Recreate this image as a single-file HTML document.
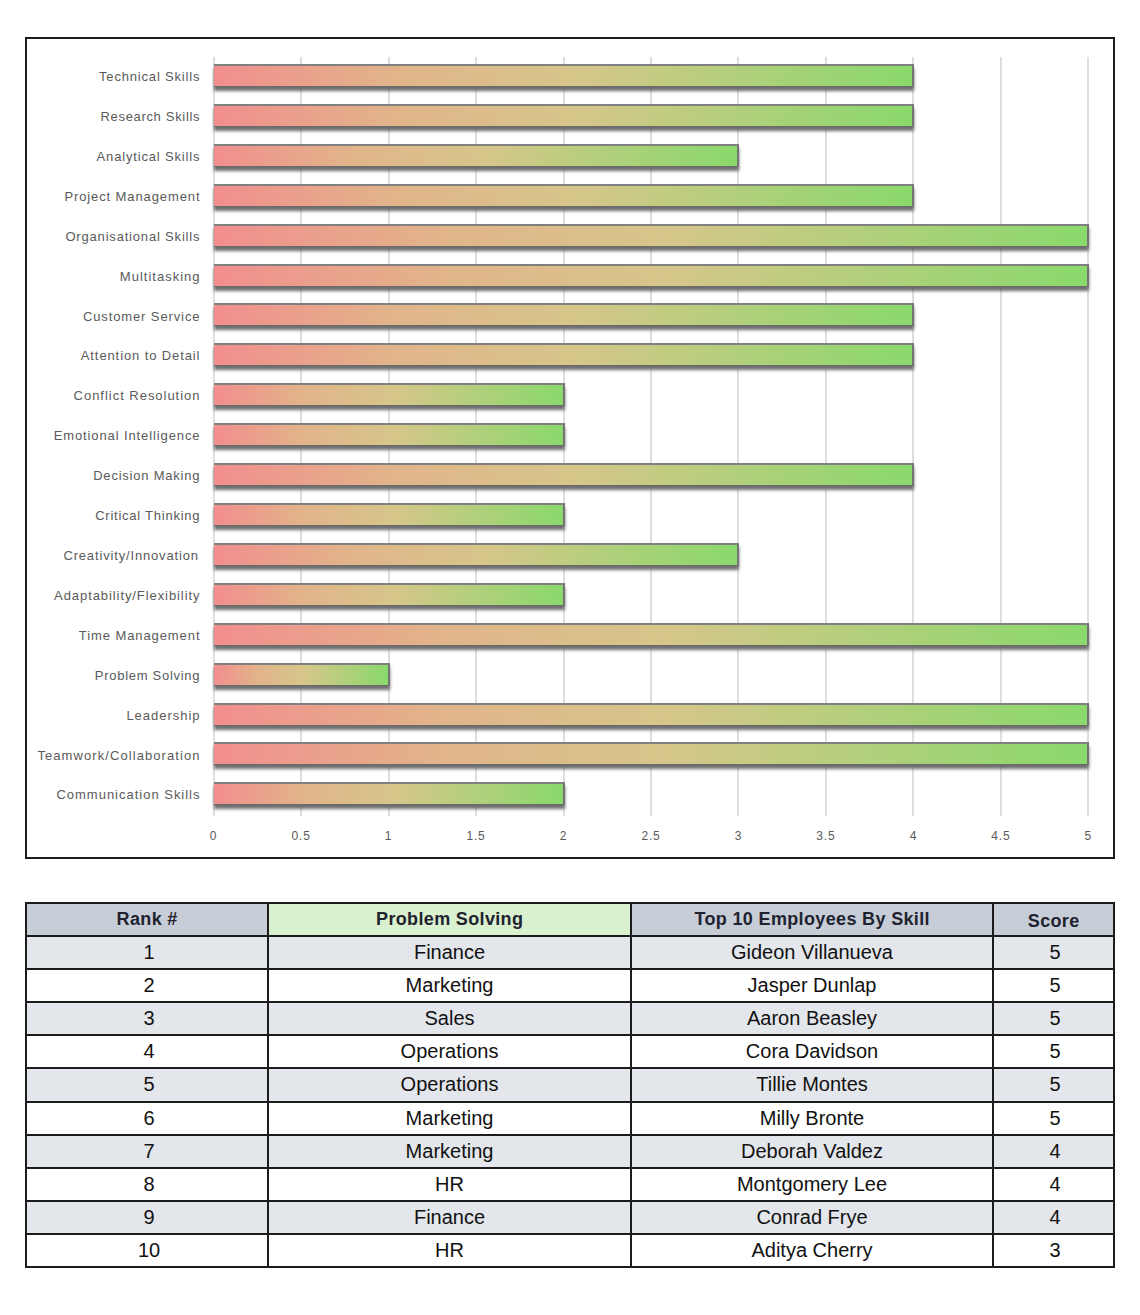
<!DOCTYPE html>
<html><head><meta charset="utf-8"><style>
html,body{margin:0;padding:0;background:#fff;}
body{width:1140px;height:1315px;position:relative;overflow:hidden;font-family:"Liberation Sans",sans-serif;}
.box{position:absolute;left:25px;top:37px;width:1086px;height:818px;border:2px solid #1c1c1c;}
.gl{position:absolute;top:57px;height:759px;width:2px;background:#dedede;}
.bar{position:absolute;left:214px;height:20px;border-top:2px solid #808080;border-right:2px solid #747474;border-bottom:1px solid #6a6a6a;box-sizing:content-box;box-shadow:0px 4px 3px rgba(95,95,95,0.9);background:linear-gradient(to right,#f28e8e,#e2b38a 25%,#d6c68a 52%,#8ad96c);}
.lbl{position:absolute;right:941px;font-size:13px;color:#595959;white-space:nowrap;letter-spacing:0.5px;line-height:16px;}
.xl{position:absolute;top:826px;font-size:11px;color:#595959;width:40px;text-align:center;line-height:16px;}
.hl{position:absolute;left:25px;width:1090px;height:2px;background:#1c1c1c;}
.vl{position:absolute;top:902px;height:366px;width:2px;background:#1c1c1c;}
.cell{position:absolute;text-align:center;white-space:nowrap;}
.hd{font-weight:bold;font-size:18px;color:#1f2330;letter-spacing:0.35px;text-indent:0.35px;}
.bd{font-size:20px;color:#111;}
</style></head><body>
<div class="box"></div>
<div class="gl" style="left:212.60px"></div>
<div class="gl" style="left:300.07px"></div>
<div class="gl" style="left:387.55px"></div>
<div class="gl" style="left:475.02px"></div>
<div class="gl" style="left:562.50px"></div>
<div class="gl" style="left:649.98px"></div>
<div class="gl" style="left:737.45px"></div>
<div class="gl" style="left:824.92px"></div>
<div class="gl" style="left:912.40px"></div>
<div class="gl" style="left:999.88px"></div>
<div class="gl" style="left:1087.35px"></div>
<div class="bar" style="top:64.00px;width:698.40px"></div>
<div class="bar" style="top:103.91px;width:698.40px"></div>
<div class="bar" style="top:143.82px;width:523.45px"></div>
<div class="bar" style="top:183.73px;width:698.40px"></div>
<div class="bar" style="top:223.64px;width:873.35px"></div>
<div class="bar" style="top:263.55px;width:873.35px"></div>
<div class="bar" style="top:303.46px;width:698.40px"></div>
<div class="bar" style="top:343.37px;width:698.40px"></div>
<div class="bar" style="top:383.28px;width:348.50px"></div>
<div class="bar" style="top:423.19px;width:348.50px"></div>
<div class="bar" style="top:463.10px;width:698.40px"></div>
<div class="bar" style="top:503.01px;width:348.50px"></div>
<div class="bar" style="top:542.92px;width:523.45px"></div>
<div class="bar" style="top:582.83px;width:348.50px"></div>
<div class="bar" style="top:622.74px;width:873.35px"></div>
<div class="bar" style="top:662.65px;width:173.55px"></div>
<div class="bar" style="top:702.56px;width:873.35px"></div>
<div class="bar" style="top:742.47px;width:873.35px"></div>
<div class="bar" style="top:782.38px;width:348.50px"></div>
<svg style="position:absolute;left:0;top:0" width="1140" height="900"><text x="99.0" y="81.0" textLength="100.5" lengthAdjust="spacing" font-family="Liberation Sans" font-size="13" fill="#5a5a5a">Technical Skills</text>
<text x="100.5" y="120.9" textLength="99.0" lengthAdjust="spacing" font-family="Liberation Sans" font-size="13" fill="#5a5a5a">Research Skills</text>
<text x="96.6" y="160.8" textLength="102.9" lengthAdjust="spacing" font-family="Liberation Sans" font-size="13" fill="#5a5a5a">Analytical Skills</text>
<text x="64.4" y="200.7" textLength="135.1" lengthAdjust="spacing" font-family="Liberation Sans" font-size="13" fill="#5a5a5a">Project Management</text>
<text x="65.4" y="240.6" textLength="134.1" lengthAdjust="spacing" font-family="Liberation Sans" font-size="13" fill="#5a5a5a">Organisational Skills</text>
<text x="119.8" y="280.5" textLength="79.7" lengthAdjust="spacing" font-family="Liberation Sans" font-size="13" fill="#5a5a5a">Multitasking</text>
<text x="82.9" y="320.5" textLength="116.6" lengthAdjust="spacing" font-family="Liberation Sans" font-size="13" fill="#5a5a5a">Customer Service</text>
<text x="80.8" y="360.4" textLength="118.7" lengthAdjust="spacing" font-family="Liberation Sans" font-size="13" fill="#5a5a5a">Attention to Detail</text>
<text x="73.6" y="400.3" textLength="125.9" lengthAdjust="spacing" font-family="Liberation Sans" font-size="13" fill="#5a5a5a">Conflict Resolution</text>
<text x="53.7" y="440.2" textLength="145.8" lengthAdjust="spacing" font-family="Liberation Sans" font-size="13" fill="#5a5a5a">Emotional Intelligence</text>
<text x="93.2" y="480.1" textLength="106.3" lengthAdjust="spacing" font-family="Liberation Sans" font-size="13" fill="#5a5a5a">Decision Making</text>
<text x="95.2" y="520.0" textLength="104.3" lengthAdjust="spacing" font-family="Liberation Sans" font-size="13" fill="#5a5a5a">Critical Thinking</text>
<text x="63.4" y="559.9" textLength="134.6" lengthAdjust="spacing" font-family="Liberation Sans" font-size="13" fill="#5a5a5a">Creativity/Innovation</text>
<text x="54.1" y="599.8" textLength="145.4" lengthAdjust="spacing" font-family="Liberation Sans" font-size="13" fill="#5a5a5a">Adaptability/Flexibility</text>
<text x="78.8" y="639.7" textLength="120.7" lengthAdjust="spacing" font-family="Liberation Sans" font-size="13" fill="#5a5a5a">Time Management</text>
<text x="94.8" y="679.6" textLength="104.7" lengthAdjust="spacing" font-family="Liberation Sans" font-size="13" fill="#5a5a5a">Problem Solving</text>
<text x="126.4" y="719.6" textLength="73.1" lengthAdjust="spacing" font-family="Liberation Sans" font-size="13" fill="#5a5a5a">Leadership</text>
<text x="37.4" y="759.5" textLength="162.1" lengthAdjust="spacing" font-family="Liberation Sans" font-size="13" fill="#5a5a5a">Teamwork/Collaboration</text>
<text x="56.4" y="799.4" textLength="143.1" lengthAdjust="spacing" font-family="Liberation Sans" font-size="13" fill="#5a5a5a">Communication Skills</text>
<text x="213.6" y="839.5" text-anchor="middle" font-family="Liberation Sans" font-size="12" letter-spacing="0.8" fill="#5a5a5a">0</text>
<text x="301.1" y="839.5" text-anchor="middle" font-family="Liberation Sans" font-size="12" letter-spacing="0.8" fill="#5a5a5a">0.5</text>
<text x="388.5" y="839.5" text-anchor="middle" font-family="Liberation Sans" font-size="12" letter-spacing="0.8" fill="#5a5a5a">1</text>
<text x="476.0" y="839.5" text-anchor="middle" font-family="Liberation Sans" font-size="12" letter-spacing="0.8" fill="#5a5a5a">1.5</text>
<text x="563.5" y="839.5" text-anchor="middle" font-family="Liberation Sans" font-size="12" letter-spacing="0.8" fill="#5a5a5a">2</text>
<text x="651.0" y="839.5" text-anchor="middle" font-family="Liberation Sans" font-size="12" letter-spacing="0.8" fill="#5a5a5a">2.5</text>
<text x="738.4" y="839.5" text-anchor="middle" font-family="Liberation Sans" font-size="12" letter-spacing="0.8" fill="#5a5a5a">3</text>
<text x="825.9" y="839.5" text-anchor="middle" font-family="Liberation Sans" font-size="12" letter-spacing="0.8" fill="#5a5a5a">3.5</text>
<text x="913.4" y="839.5" text-anchor="middle" font-family="Liberation Sans" font-size="12" letter-spacing="0.8" fill="#5a5a5a">4</text>
<text x="1000.9" y="839.5" text-anchor="middle" font-family="Liberation Sans" font-size="12" letter-spacing="0.8" fill="#5a5a5a">4.5</text>
<text x="1088.3" y="839.5" text-anchor="middle" font-family="Liberation Sans" font-size="12" letter-spacing="0.8" fill="#5a5a5a">5</text>
</svg>
<div style="position:absolute;left:25px;top:902.00px;width:242px;height:33.09px;background:#c7cdd7"></div>
<div style="position:absolute;left:267px;top:902.00px;width:363px;height:33.09px;background:#d9f1cf"></div>
<div style="position:absolute;left:630px;top:902.00px;width:362px;height:33.09px;background:#c7cdd7"></div>
<div style="position:absolute;left:992px;top:902.00px;width:121px;height:33.09px;background:#c7cdd7"></div>
<div style="position:absolute;left:25px;top:935.09px;width:242px;height:33.09px;background:#e3e6eb"></div>
<div style="position:absolute;left:267px;top:935.09px;width:363px;height:33.09px;background:#e3e6eb"></div>
<div style="position:absolute;left:630px;top:935.09px;width:362px;height:33.09px;background:#e3e6eb"></div>
<div style="position:absolute;left:992px;top:935.09px;width:121px;height:33.09px;background:#e3e6eb"></div>
<div style="position:absolute;left:25px;top:968.18px;width:242px;height:33.09px;background:#ffffff"></div>
<div style="position:absolute;left:267px;top:968.18px;width:363px;height:33.09px;background:#ffffff"></div>
<div style="position:absolute;left:630px;top:968.18px;width:362px;height:33.09px;background:#ffffff"></div>
<div style="position:absolute;left:992px;top:968.18px;width:121px;height:33.09px;background:#ffffff"></div>
<div style="position:absolute;left:25px;top:1001.27px;width:242px;height:33.09px;background:#e3e6eb"></div>
<div style="position:absolute;left:267px;top:1001.27px;width:363px;height:33.09px;background:#e3e6eb"></div>
<div style="position:absolute;left:630px;top:1001.27px;width:362px;height:33.09px;background:#e3e6eb"></div>
<div style="position:absolute;left:992px;top:1001.27px;width:121px;height:33.09px;background:#e3e6eb"></div>
<div style="position:absolute;left:25px;top:1034.36px;width:242px;height:33.09px;background:#ffffff"></div>
<div style="position:absolute;left:267px;top:1034.36px;width:363px;height:33.09px;background:#ffffff"></div>
<div style="position:absolute;left:630px;top:1034.36px;width:362px;height:33.09px;background:#ffffff"></div>
<div style="position:absolute;left:992px;top:1034.36px;width:121px;height:33.09px;background:#ffffff"></div>
<div style="position:absolute;left:25px;top:1067.45px;width:242px;height:33.09px;background:#e3e6eb"></div>
<div style="position:absolute;left:267px;top:1067.45px;width:363px;height:33.09px;background:#e3e6eb"></div>
<div style="position:absolute;left:630px;top:1067.45px;width:362px;height:33.09px;background:#e3e6eb"></div>
<div style="position:absolute;left:992px;top:1067.45px;width:121px;height:33.09px;background:#e3e6eb"></div>
<div style="position:absolute;left:25px;top:1100.54px;width:242px;height:33.09px;background:#ffffff"></div>
<div style="position:absolute;left:267px;top:1100.54px;width:363px;height:33.09px;background:#ffffff"></div>
<div style="position:absolute;left:630px;top:1100.54px;width:362px;height:33.09px;background:#ffffff"></div>
<div style="position:absolute;left:992px;top:1100.54px;width:121px;height:33.09px;background:#ffffff"></div>
<div style="position:absolute;left:25px;top:1133.63px;width:242px;height:33.09px;background:#e3e6eb"></div>
<div style="position:absolute;left:267px;top:1133.63px;width:363px;height:33.09px;background:#e3e6eb"></div>
<div style="position:absolute;left:630px;top:1133.63px;width:362px;height:33.09px;background:#e3e6eb"></div>
<div style="position:absolute;left:992px;top:1133.63px;width:121px;height:33.09px;background:#e3e6eb"></div>
<div style="position:absolute;left:25px;top:1166.72px;width:242px;height:33.09px;background:#ffffff"></div>
<div style="position:absolute;left:267px;top:1166.72px;width:363px;height:33.09px;background:#ffffff"></div>
<div style="position:absolute;left:630px;top:1166.72px;width:362px;height:33.09px;background:#ffffff"></div>
<div style="position:absolute;left:992px;top:1166.72px;width:121px;height:33.09px;background:#ffffff"></div>
<div style="position:absolute;left:25px;top:1199.81px;width:242px;height:33.09px;background:#e3e6eb"></div>
<div style="position:absolute;left:267px;top:1199.81px;width:363px;height:33.09px;background:#e3e6eb"></div>
<div style="position:absolute;left:630px;top:1199.81px;width:362px;height:33.09px;background:#e3e6eb"></div>
<div style="position:absolute;left:992px;top:1199.81px;width:121px;height:33.09px;background:#e3e6eb"></div>
<div style="position:absolute;left:25px;top:1232.90px;width:242px;height:33.09px;background:#ffffff"></div>
<div style="position:absolute;left:267px;top:1232.90px;width:363px;height:33.09px;background:#ffffff"></div>
<div style="position:absolute;left:630px;top:1232.90px;width:362px;height:33.09px;background:#ffffff"></div>
<div style="position:absolute;left:992px;top:1232.90px;width:121px;height:33.09px;background:#ffffff"></div>
<div class="hl" style="top:902.00px"></div>
<div class="hl" style="top:935.09px"></div>
<div class="hl" style="top:968.18px"></div>
<div class="hl" style="top:1001.27px"></div>
<div class="hl" style="top:1034.36px"></div>
<div class="hl" style="top:1067.45px"></div>
<div class="hl" style="top:1100.54px"></div>
<div class="hl" style="top:1133.63px"></div>
<div class="hl" style="top:1166.72px"></div>
<div class="hl" style="top:1199.81px"></div>
<div class="hl" style="top:1232.90px"></div>
<div class="hl" style="top:1265.99px"></div>
<div class="vl" style="left:25px"></div>
<div class="vl" style="left:267px"></div>
<div class="vl" style="left:630px"></div>
<div class="vl" style="left:992px"></div>
<div class="vl" style="left:1113px"></div>
<div class="cell hd" style="left:27px;width:240px;top:904.00px;height:31.09px;line-height:31.09px">Rank #</div>
<div class="cell hd" style="left:269px;width:361px;top:904.00px;height:31.09px;line-height:31.09px">Problem Solving</div>
<div class="cell hd" style="left:632px;width:360px;top:904.00px;height:31.09px;line-height:31.09px">Top 10 Employees By Skill</div>
<div class="cell hd" style="left:994px;width:119px;top:906.00px;height:31.09px;line-height:31.09px">Score</div>
<div class="cell bd" style="left:29px;width:240px;top:937.09px;height:31.09px;line-height:31.09px">1</div>
<div class="cell bd" style="left:269px;width:361px;top:937.09px;height:31.09px;line-height:31.09px">Finance</div>
<div class="cell bd" style="left:632px;width:360px;top:937.09px;height:31.09px;line-height:31.09px">Gideon Villanueva</div>
<div class="cell bd" style="left:995.5px;width:119px;top:937.09px;height:31.09px;line-height:31.09px">5</div>
<div class="cell bd" style="left:29px;width:240px;top:970.18px;height:31.09px;line-height:31.09px">2</div>
<div class="cell bd" style="left:269px;width:361px;top:970.18px;height:31.09px;line-height:31.09px">Marketing</div>
<div class="cell bd" style="left:632px;width:360px;top:970.18px;height:31.09px;line-height:31.09px">Jasper Dunlap</div>
<div class="cell bd" style="left:995.5px;width:119px;top:970.18px;height:31.09px;line-height:31.09px">5</div>
<div class="cell bd" style="left:29px;width:240px;top:1003.27px;height:31.09px;line-height:31.09px">3</div>
<div class="cell bd" style="left:269px;width:361px;top:1003.27px;height:31.09px;line-height:31.09px">Sales</div>
<div class="cell bd" style="left:632px;width:360px;top:1003.27px;height:31.09px;line-height:31.09px">Aaron Beasley</div>
<div class="cell bd" style="left:995.5px;width:119px;top:1003.27px;height:31.09px;line-height:31.09px">5</div>
<div class="cell bd" style="left:29px;width:240px;top:1036.36px;height:31.09px;line-height:31.09px">4</div>
<div class="cell bd" style="left:269px;width:361px;top:1036.36px;height:31.09px;line-height:31.09px">Operations</div>
<div class="cell bd" style="left:632px;width:360px;top:1036.36px;height:31.09px;line-height:31.09px">Cora Davidson</div>
<div class="cell bd" style="left:995.5px;width:119px;top:1036.36px;height:31.09px;line-height:31.09px">5</div>
<div class="cell bd" style="left:29px;width:240px;top:1069.45px;height:31.09px;line-height:31.09px">5</div>
<div class="cell bd" style="left:269px;width:361px;top:1069.45px;height:31.09px;line-height:31.09px">Operations</div>
<div class="cell bd" style="left:632px;width:360px;top:1069.45px;height:31.09px;line-height:31.09px">Tillie Montes</div>
<div class="cell bd" style="left:995.5px;width:119px;top:1069.45px;height:31.09px;line-height:31.09px">5</div>
<div class="cell bd" style="left:29px;width:240px;top:1102.54px;height:31.09px;line-height:31.09px">6</div>
<div class="cell bd" style="left:269px;width:361px;top:1102.54px;height:31.09px;line-height:31.09px">Marketing</div>
<div class="cell bd" style="left:632px;width:360px;top:1102.54px;height:31.09px;line-height:31.09px">Milly Bronte</div>
<div class="cell bd" style="left:995.5px;width:119px;top:1102.54px;height:31.09px;line-height:31.09px">5</div>
<div class="cell bd" style="left:29px;width:240px;top:1135.63px;height:31.09px;line-height:31.09px">7</div>
<div class="cell bd" style="left:269px;width:361px;top:1135.63px;height:31.09px;line-height:31.09px">Marketing</div>
<div class="cell bd" style="left:632px;width:360px;top:1135.63px;height:31.09px;line-height:31.09px">Deborah Valdez</div>
<div class="cell bd" style="left:995.5px;width:119px;top:1135.63px;height:31.09px;line-height:31.09px">4</div>
<div class="cell bd" style="left:29px;width:240px;top:1168.72px;height:31.09px;line-height:31.09px">8</div>
<div class="cell bd" style="left:269px;width:361px;top:1168.72px;height:31.09px;line-height:31.09px">HR</div>
<div class="cell bd" style="left:632px;width:360px;top:1168.72px;height:31.09px;line-height:31.09px">Montgomery Lee</div>
<div class="cell bd" style="left:995.5px;width:119px;top:1168.72px;height:31.09px;line-height:31.09px">4</div>
<div class="cell bd" style="left:29px;width:240px;top:1201.81px;height:31.09px;line-height:31.09px">9</div>
<div class="cell bd" style="left:269px;width:361px;top:1201.81px;height:31.09px;line-height:31.09px">Finance</div>
<div class="cell bd" style="left:632px;width:360px;top:1201.81px;height:31.09px;line-height:31.09px">Conrad Frye</div>
<div class="cell bd" style="left:995.5px;width:119px;top:1201.81px;height:31.09px;line-height:31.09px">4</div>
<div class="cell bd" style="left:29px;width:240px;top:1234.90px;height:31.09px;line-height:31.09px">10</div>
<div class="cell bd" style="left:269px;width:361px;top:1234.90px;height:31.09px;line-height:31.09px">HR</div>
<div class="cell bd" style="left:632px;width:360px;top:1234.90px;height:31.09px;line-height:31.09px">Aditya Cherry</div>
<div class="cell bd" style="left:995.5px;width:119px;top:1234.90px;height:31.09px;line-height:31.09px">3</div>
</body></html>
